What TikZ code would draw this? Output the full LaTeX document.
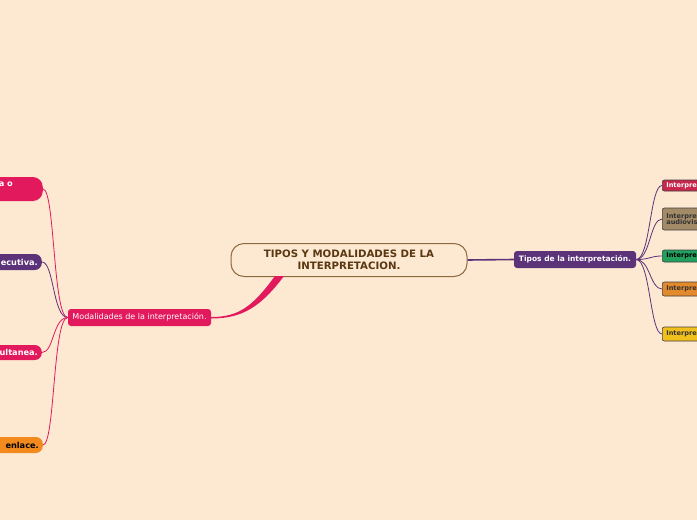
\documentclass[tikz,border=0pt]{standalone}
\usepackage{fontspec}
\setmainfont{DejaVu Sans}
\definecolor{bgpeach}{HTML}{FDE8D2}
\definecolor{titlebrown}{HTML}{8E6B3F}
\definecolor{titletext}{HTML}{5A3812}
\definecolor{mmpink}{HTML}{E3195E}
\definecolor{mmpurple}{HTML}{5C3278}
\definecolor{mmorange}{HTML}{F28A1E}
\definecolor{mmred}{HTML}{C8264C}
\definecolor{mmtan}{HTML}{A38B68}
\definecolor{mmgreen}{HTML}{21A05E}
\definecolor{mmamber}{HTML}{E38A2D}
\definecolor{mmyellow}{HTML}{F2C01C}
\begin{document}
\begin{tikzpicture}[x=1pt,y=-1pt,
  topic/.style={rounded corners=3pt, inner sep=0pt, text=white,
    font=\fontsize{8}{9}\selectfont},
  leftleaf/.style={anchor=east, rounded corners=7pt, inner xsep=4pt, inner ysep=0pt,
    text width=70pt, align=right, text=white,
    font=\bfseries\fontsize{8.2}{9}\selectfont},
  rightleaf/.style={anchor=west, draw=black!75, line width=0.6pt, rounded corners=2pt,
    inner xsep=4pt, inner ysep=0pt, text width=50pt, align=left,
    font=\bfseries\fontsize{6.6}{7.4}\selectfont},
  pinkline/.style={draw=mmpink, line width=0.8pt},
  purpleline/.style={draw=mmpurple, line width=0.8pt}]

  % Background
  \fill[bgpeach] (0,0) rectangle (697,520);
  \useasboundingbox (0,0) rectangle (697,520);

  % Central topic
  \node[draw=titlebrown, line width=1pt, rounded corners=13pt, fill=bgpeach,
    minimum width=236pt, minimum height=33pt, align=center, text=titletext,
    font=\bfseries\fontsize{10.2}{12.5}\selectfont] (title) at (349,260)
    {TIPOS Y MODALIDADES DE LA\\INTERPRETACION.};

  % Main topics
  \node[topic, fill=mmpink, minimum width=143pt, minimum height=17pt] (modal) at (139.5,317.5)
    {Modalidades de la interpretación.};
  \node[topic, fill=mmpurple, minimum width=122pt, minimum height=17pt,
    font=\bfseries\fontsize{7.5}{8.5}\selectfont] (tipos) at (575,259.5)
    {Tipos de la interpretación.};

  % Left subtopics
  \node[leftleaf, fill=mmpink, minimum height=24pt, rounded corners=10pt] (susurrada) at (43,189) {};
  \node[anchor=east, inner sep=0pt, text=white, font=\bfseries\fontsize{8.2}{9}\selectfont]
    at (13,184.5) {a o};
  \node[leftleaf, fill=mmpurple, minimum height=16pt] (consecutiva) at (42,262) {ecutiva.};
  \node[leftleaf, fill=mmpink, minimum height=15pt] (simultanea) at (42,352.5) {ultanea.};
  \node[leftleaf, fill=mmorange, minimum height=16pt, text=black] (enlace) at (43,445) {enlace.};

  % Right subtopics
  \node[rightleaf, fill=mmred, minimum height=11pt, text=white] (rojo) at (662,185.5) {Interpre};
  \node[rightleaf, fill=mmtan, minimum height=22pt, text=black!80] (audiovis) at (662,219) {Interpre\\[-1pt]audiovis};
  \node[rightleaf, fill=mmgreen, minimum height=12pt, text=black] (verde) at (662,256) {Interpre};
  \node[rightleaf, fill=mmamber, minimum height=14pt, text=black!80] (naranja) at (662,289) {Interpre};
  \node[rightleaf, fill=mmyellow, minimum height=14pt, text=black!80] (amarillo) at (662,334) {Interpre};

  % Title to main topics
  \coordinate (stem) at (279,276);
  \fill[mmpink] ([xshift=5pt]stem) .. controls +(-24,32) and +(30,0) .. ([yshift=-1pt]modal.east)
    -- ([yshift=0.5pt]modal.east) .. controls +(28,0) and +(-22,30) .. ([xshift=-4pt]stem) -- cycle;
  \draw[mmpurple, line width=1.6pt] (title.east) -- (tipos.west);

  % Left branches
  \foreach \leaf/\col in {susurrada/pinkline, consecutiva/purpleline, simultanea/pinkline, enlace/pinkline}
    \draw[\col] (modal.west) .. controls +(-15,0) and +(12,0) .. (\leaf.east);

  % Right branches
  \foreach \leaf in {rojo, audiovis, verde, naranja, amarillo}
    \draw[purpleline] (tipos.east) .. controls +(14,0) and +(-12,0) .. (\leaf.west);
\end{tikzpicture}
\end{document}
